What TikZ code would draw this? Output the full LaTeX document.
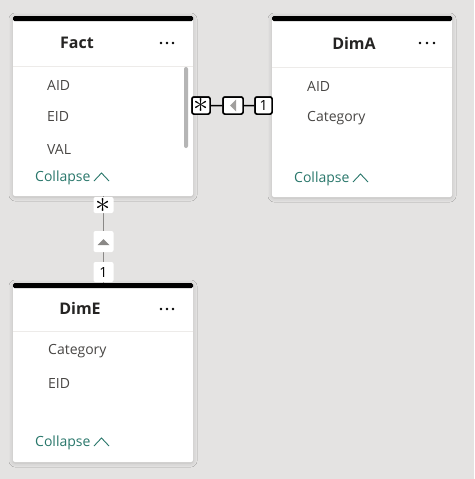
\documentclass[tikz,border=0pt]{standalone}
\usepackage{fontspec}
\setmainfont{Open Sans}
\usetikzlibrary{shadows.blur,positioning}

\definecolor{canvas}{HTML}{E4E3E2}
\definecolor{titleink}{HTML}{252423}
\definecolor{fieldink}{HTML}{484644}
\definecolor{linkteal}{HTML}{29776B}
\definecolor{rulegray}{HTML}{EDEBE9}
\definecolor{scrollgray}{HTML}{B5B5B5}
\definecolor{wiregray}{HTML}{8A8886}
\definecolor{tipgray}{HTML}{A19F9D}

\tikzset{
  card/.style={fill=white, rounded corners=2pt, inner sep=0pt,
    minimum width=180pt, minimum height=180pt,
    blur shadow={shadow xshift=0pt, shadow yshift=-1pt, shadow blur radius=4pt, shadow opacity=18}},
  title/.style={font=\fontsize{16}{18}\selectfont\bfseries, text=titleink},
  field/.style={anchor=west, inner sep=0pt, font=\fontsize{14}{16}\selectfont, text=fieldink},
  collapse/.style={anchor=west, inner sep=0pt, font=\fontsize{14}{16}\selectfont, text=linkteal},
  chevron/.style={draw=linkteal, line width=0.9pt},
  topbar/.style={fill=black, rounded corners=1.5pt},
  sep/.style={draw=rulegray, line width=1pt},
  mult/.style={fill=white, draw=black, line width=1.5pt, rounded corners=2pt, inner sep=0pt,
    minimum height=17pt, font=\fontsize{14}{16}\selectfont},
  multsoft/.style={fill=white, rounded corners=2pt, inner sep=0pt,
    minimum width=20pt, font=\fontsize{14}{16}\selectfont},
  hlink/.style={draw=black, line width=1.5pt},
  vlink/.style={draw=wiregray, line width=1pt}
}
\newcommand{\manymark}{\raisebox{-1.5pt}{\scalebox{2.1}{$\ast$}}}

\begin{document}
\begin{tikzpicture}[x=1pt, y=-1pt]
  \fill[canvas] (0,0) rectangle (474,479);
  \useasboundingbox (0,0) rectangle (474,479);

  % tables
  \node[card] (fact) at (103,106) {};
  \node[card, minimum height=181pt] (dima) at (362,106.5) {};
  \node[card, minimum height=179pt] (dime) at (103,372.5) {};

  % Fact
  \fill[topbar] (13,16) rectangle (193,21);
  \node[title] (facttitle) at (77,43) {Fact};
  \foreach \x in {161,167,173} \fill[black] (\x,43) circle (1.4pt);
  \draw[sep] (13,66) -- (193,66);
  \node[field] (factaid) at (47,85) {AID};
  \node[field] (facteid) at (47,117) {EID};
  \node[field] (factval) at (47,149) {VAL};
  \fill[scrollgray, rounded corners=2pt] (184,67) rectangle (188,148);
  \node[collapse] (factcol) at (35,178) {Collapse};
  \draw[chevron] (94,181) -- (101.5,173) -- (109,181);

  % DimA
  \fill[topbar] (272,16) rectangle (452,21);
  \node[title] (dimatitle) at (354,43) {DimA};
  \foreach \x in {420,427,434} \fill[black] (\x,43) circle (1.4pt);
  \draw[sep] (272,67) -- (452,67);
  \node[field] (dimaaid) at (307,86) {AID};
  \node[field] (dimacat) at (307,118) {Category};
  \node[collapse] (dimacol) at (294,179) {Collapse};
  \draw[chevron] (353,182) -- (360.5,174) -- (368,182);

  % DimE
  \fill[topbar] (13,283) rectangle (193,288);
  \node[title] (dimetitle) at (80,308) {DimE};
  \foreach \x in {161,167,173} \fill[black] (\x,309) circle (1.4pt);
  \draw[sep] (13,331) -- (193,331);
  \node[field] (dimecat) at (48,351) {Category};
  \node[field] (dimeeid) at (48,383) {EID};
  \node[collapse] (dimecol) at (35,443) {Collapse};
  \draw[chevron] (94,446) -- (101.5,438) -- (109,446);

  % Fact -- DimA
  \node[mult, minimum width=18pt] (fa1) at (201,105.5) {};
  \node[mult, minimum width=20pt] (fa2) at (233,105.5) {};
  \node[mult, minimum width=17pt] (fa3) at (263.5,105.5) {1};
  \draw[hlink] (fa1) -- (fa2) (fa2) -- (fa3) (fa3) -- (dima);
  \node[mult, minimum width=18pt] (fa1) at (201,105.5) {\manymark};
  \node[mult, minimum width=20pt] (fa2) at (233,105.5) {};
  \node[mult, minimum width=17pt] (fa3) at (263.5,105.5) {1};
  \fill[tipgray] (230,105.5) -- (236,99.5) -- (236,111.5) -- cycle;

  % Fact -- DimE
  \draw[vlink] (fact) -- (dime);
  \node[multsoft, minimum height=16pt] (fe1) at (103.5,205) {\manymark};
  \node[multsoft, minimum height=21pt] (fe2) at (103.5,241.5) {};
  \node[multsoft, minimum height=20pt] (fe3) at (103.5,272) {1};
  \fill[wiregray] (97.5,245) -- (103.5,239) -- (109.5,245) -- cycle;
\end{tikzpicture}
\end{document}
